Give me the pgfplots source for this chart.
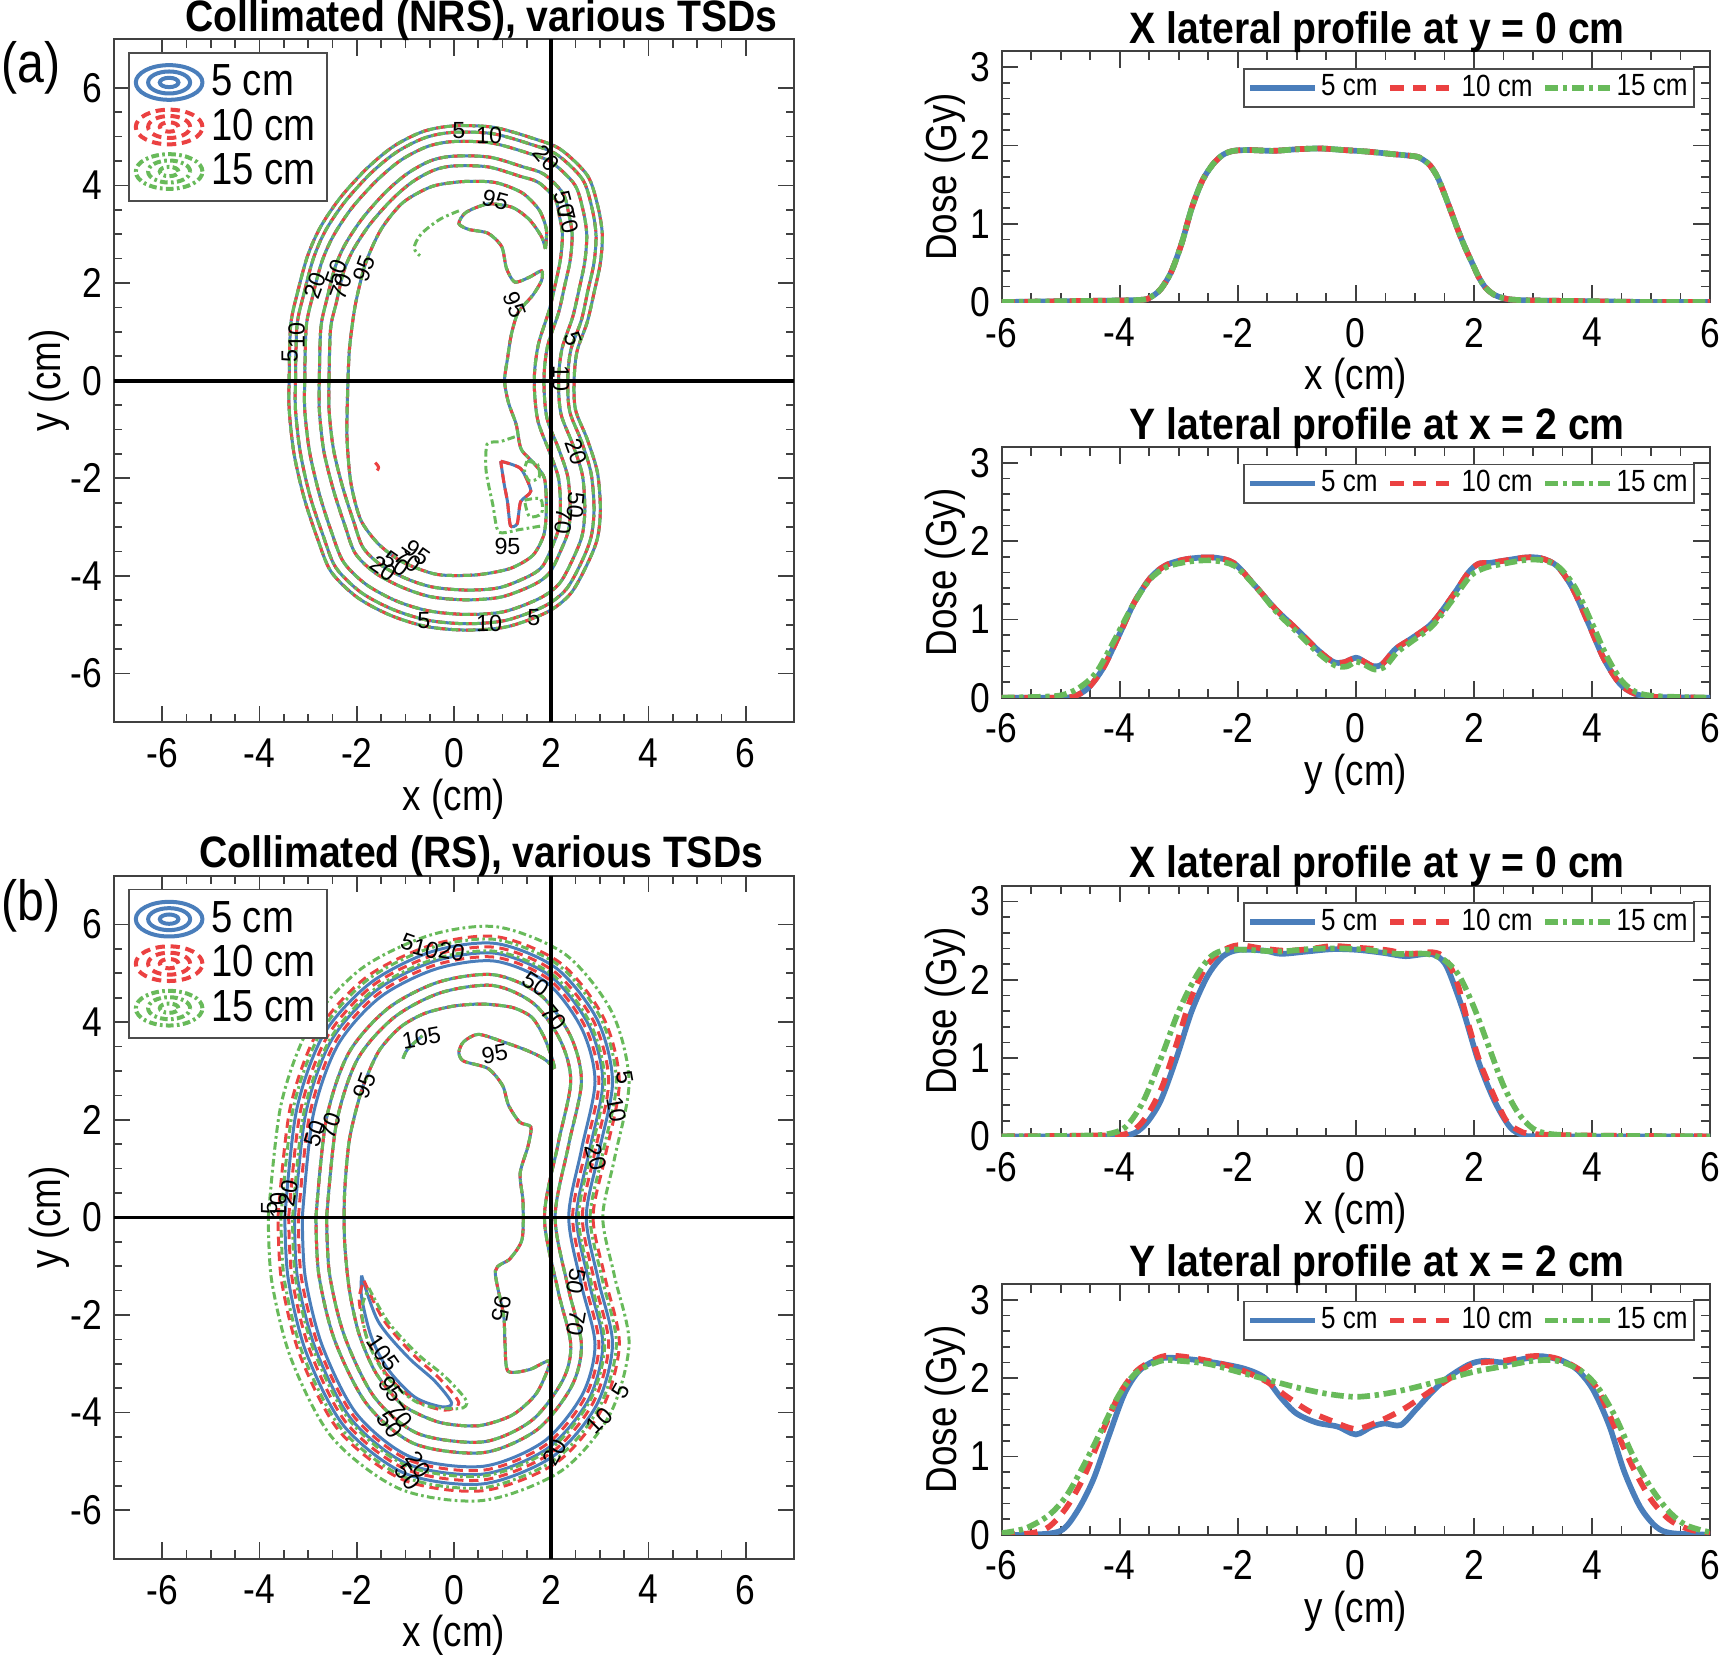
\documentclass[border=0pt]{standalone}
\usepackage{fontspec}
\setmainfont{Liberation Sans}
\newfontfamily\narrowsf[FakeStretch=0.85]{Liberation Sans}
\newfontfamily\titlesf[FakeStretch=0.89]{Liberation Sans}
\usepackage{pgfplots}
\pgfplotsset{compat=1.18}
\usepackage{pgfplotstable}

\definecolor{cBlue}{RGB}{74,126,187}
\definecolor{cRed}{RGB}{235,65,65}
\definecolor{cGreen}{RGB}{104,186,90}

\tikzset{
  cb/.style={cBlue, line width=0.9pt, solid},
  cr/.style={cRed, line width=0.9pt, dash pattern=on 2.8pt off 1.7pt},
  cg/.style={cGreen, line width=0.9pt, dash pattern=on 2.3pt off 1pt on 0.8pt off 1pt},
  pb/.style={cBlue, line width=1.7pt, solid},
  pr/.style={cRed, line width=1.7pt, dash pattern=on 4pt off 2.8pt},
  pg/.style={cGreen, line width=1.7pt, dash pattern=on 3.8pt off 1.4pt on 1.3pt off 1.4pt},
  clab/.style={font=\fontsize{7}{8}\selectfont, inner sep=0pt},
}

% ---------- isodose lines, panel (a): the three TSDs coincide ----------
\pgfplotstableread{
x y
-3.39 0.00
-3.36 1.13
-3.22 1.80
-3.01 2.56
-2.74 3.16
-2.33 3.76
-1.78 4.36
-1.23 4.81
-0.62 5.11
0.00 5.22
0.82 5.19
1.64 4.96
2.19 4.74
2.74 4.21
2.95 3.61
3.05 3.00
3.01 2.41
2.88 1.80
2.74 1.20
2.53 0.60
2.47 0.00
2.50 -0.60
2.74 -1.20
2.95 -1.88
3.01 -2.63
2.95 -3.23
2.74 -3.76
2.40 -4.36
1.92 -4.74
1.10 -5.04
0.27 -5.11
-0.55 -5.04
-1.30 -4.81
-1.99 -4.44
-2.53 -3.91
-2.81 -3.23
-3.08 -2.41
-3.29 -1.50
-3.39 -0.60
-3.39 0.00
}\Afive
\pgfplotstableread{
x y
-3.26 0.00
-3.23 1.12
-3.09 1.77
-2.89 2.51
-2.64 3.08
-2.24 3.67
-1.70 4.26
-1.17 4.69
-0.59 4.98
0.00 5.09
0.80 5.06
1.59 4.84
2.12 4.63
2.64 4.13
2.83 3.57
2.92 3.00
2.88 2.42
2.75 1.83
2.62 1.24
2.40 0.62
2.34 0.00
2.38 -0.63
2.62 -1.24
2.82 -1.90
2.88 -2.63
2.82 -3.20
2.63 -3.70
2.31 -4.27
1.86 -4.62
1.07 -4.91
0.27 -4.98
-0.53 -4.91
-1.25 -4.69
-1.91 -4.34
-2.43 -3.83
-2.69 -3.18
-2.96 -2.37
-3.16 -1.48
-3.26 -0.60
-3.26 0.00
}\Aten
\pgfplotstableread{
x y
-3.07 0.00
-3.04 1.10
-2.91 1.72
-2.72 2.43
-2.48 2.97
-2.10 3.54
-1.59 4.10
-1.09 4.52
-0.54 4.80
0.00 4.90
0.77 4.87
1.53 4.66
2.01 4.47
2.48 4.02
2.65 3.51
2.73 3.00
2.69 2.44
2.57 1.86
2.44 1.30
2.22 0.65
2.15 0.00
2.20 -0.68
2.44 -1.30
2.64 -1.93
2.69 -2.63
2.64 -3.15
2.47 -3.60
2.18 -4.14
1.78 -4.45
1.04 -4.73
0.27 -4.79
-0.50 -4.72
-1.17 -4.52
-1.80 -4.18
-2.27 -3.72
-2.52 -3.10
-2.77 -2.32
-2.97 -1.46
-3.07 -0.60
-3.07 0.00
}\Atwenty
\pgfplotstableread{
x y
-2.77 0.00
-2.74 1.07
-2.62 1.65
-2.45 2.31
-2.24 2.79
-1.88 3.33
-1.41 3.86
-0.95 4.25
-0.47 4.51
0.00 4.60
0.73 4.58
1.42 4.38
1.85 4.23
2.24 3.84
2.36 3.42
2.43 3.00
2.39 2.47
2.27 1.92
2.15 1.39
1.92 0.69
1.85 0.00
1.91 -0.76
2.15 -1.39
2.34 -1.97
2.39 -2.63
2.35 -3.08
2.21 -3.45
1.97 -3.93
1.64 -4.18
0.98 -4.43
0.27 -4.49
-0.46 -4.43
-1.05 -4.24
-1.62 -3.94
-2.03 -3.54
-2.24 -2.98
-2.48 -2.24
-2.68 -1.43
-2.77 -0.60
-2.77 0.00
}\Afifty
\pgfplotstableread{
x y
-2.57 0.00
-2.54 1.05
-2.42 1.60
-2.27 2.23
-2.08 2.67
-1.74 3.19
-1.29 3.70
-0.86 4.07
-0.42 4.31
0.00 4.40
0.70 4.38
1.35 4.19
1.74 4.06
2.08 3.72
2.17 3.36
2.23 3.00
2.19 2.49
2.08 1.96
1.96 1.45
1.73 0.72
1.65 0.00
1.72 -0.80
1.96 -1.45
2.15 -2.00
2.19 -2.63
2.15 -3.03
2.04 -3.35
1.83 -3.79
1.55 -4.00
0.94 -4.24
0.27 -4.29
-0.43 -4.23
-0.97 -4.06
-1.50 -3.78
-1.87 -3.42
-2.06 -2.90
-2.29 -2.18
-2.48 -1.40
-2.57 -0.60
-2.57 0.00
}\Aseventy
\pgfplotstableread{
x y
1.88 2.70
1.90 3.10
1.75 3.50
1.40 3.85
0.85 4.06
0.20 4.08
-0.45 3.98
-1.05 3.65
-1.50 3.10
-1.82 2.40
-2.03 1.55
-2.15 0.65
-2.19 -0.30
-2.20 -1.20
-2.12 -2.10
-1.92 -2.85
-1.55 -3.35
-1.05 -3.72
-0.35 -3.97
0.45 -3.98
1.15 -3.85
1.62 -3.58
1.85 -3.15
1.90 -2.60
1.86 -2.00
1.65 -1.70
1.38 -1.40
1.28 -0.90
1.12 -0.45
1.04 0.00
1.10 0.45
1.18 0.95
1.32 1.40
1.62 1.75
1.80 2.05
1.80 2.25
1.55 2.12
1.25 2.02
1.08 2.30
0.98 2.75
0.70 3.02
0.30 3.10
0.10 3.22
0.25 3.45
0.70 3.62
1.20 3.55
1.55 3.30
1.80 2.95
1.88 2.70
}\Aninetyfive
\pgfplotstableread{
x y
0.96 -1.65
1.37 -1.80
1.58 -2.26
1.37 -2.48
1.30 -2.93
1.16 -2.97
1.10 -2.48
1.03 -2.11
0.96 -1.65
}\Aisle
\pgfplotstableread{
x y
0.10 3.48
-0.30 3.30
-0.68 3.00
-0.82 2.72
-0.70 2.56
}\AgA
\pgfplotstableread{
x y
1.25 -1.15
0.95 -1.25
0.68 -1.30
0.66 -1.85
0.80 -2.55
0.92 -3.10
1.35 -3.05
1.78 -2.98
}\AgB
\pgfplotstableread{
x y
1.50 -1.65
1.72 -1.72
1.75 -1.98
1.55 -2.05
1.45 -1.85
1.50 -1.65
}\AgC
\pgfplotstableread{
x y
1.45 -2.45
1.78 -2.42
1.80 -2.72
1.55 -2.78
1.45 -2.45
}\AgD
\pgfplotstableread{
x y
-1.62 -1.68
-1.55 -1.78
-1.62 -1.90
}\ArA

% ---------- isodose lines, panel (b) ----------
\pgfplotstableread{
x y
-3.82 0.00
-3.56 2.30
-2.95 3.95
-1.90 5.10
-0.50 5.78
0.90 5.95
2.30 5.38
3.25 4.20
3.60 2.78
3.30 1.20
3.06 0.00
3.30 -1.20
3.60 -2.60
3.20 -4.05
2.20 -5.20
0.60 -5.80
-1.10 -5.57
-2.50 -4.52
-3.35 -2.90
-3.75 -1.30
-3.82 0.00
}\BgFive
\pgfplotstableread{
x y
-3.62 0.00
-3.37 2.24
-2.79 3.83
-1.79 4.93
-0.46 5.58
0.88 5.75
2.19 5.21
3.07 4.10
3.40 2.78
3.11 1.25
2.86 0.00
3.11 -1.25
3.40 -2.60
3.04 -3.93
2.10 -5.03
0.60 -5.60
-1.04 -5.38
-2.36 -4.38
-3.17 -2.82
-3.55 -1.28
-3.62 0.00
}\BrFive
\pgfplotstableread{
x y
-3.56 0.00
-3.31 2.22
-2.74 3.79
-1.76 4.88
-0.45 5.53
0.88 5.69
2.16 5.16
3.02 4.08
3.34 2.78
3.05 1.27
2.80 0.00
3.05 -1.27
3.34 -2.60
2.99 -3.89
2.07 -4.97
0.60 -5.54
-1.02 -5.32
-2.31 -4.34
-3.11 -2.80
-3.49 -1.27
-3.56 0.00
}\BgTen
\pgfplotstableread{
x y
-3.48 0.00
-3.24 2.19
-2.68 3.75
-1.71 4.81
-0.44 5.45
0.87 5.61
2.11 5.10
2.95 4.04
3.26 2.78
2.97 1.29
2.72 0.00
2.97 -1.29
3.26 -2.60
2.93 -3.85
2.03 -4.90
0.60 -5.46
-1.00 -5.25
-2.26 -4.28
-3.04 -2.77
-3.41 -1.26
-3.48 0.00
}\BbFive
\pgfplotstableread{
x y
-3.40 0.00
-3.16 2.17
-2.61 3.70
-1.67 4.75
-0.42 5.37
0.87 5.53
2.07 5.03
2.88 4.00
3.18 2.78
2.89 1.31
2.64 0.00
2.89 -1.31
3.18 -2.60
2.86 -3.80
1.99 -4.83
0.60 -5.38
-0.97 -5.17
-2.20 -4.23
-2.96 -2.74
-3.33 -1.25
-3.40 0.00
}\BrTen
\pgfplotstableread{
x y
-3.32 0.00
-3.09 2.14
-2.55 3.65
-1.63 4.68
-0.41 5.29
0.86 5.45
2.03 4.97
2.81 3.96
3.10 2.78
2.82 1.33
2.56 0.00
2.82 -1.33
3.10 -2.60
2.80 -3.75
1.95 -4.77
0.60 -5.30
-0.95 -5.10
-2.14 -4.17
-2.89 -2.71
-3.26 -1.24
-3.32 0.00
}\BgTwenty
\pgfplotstableread{
x y
-3.28 0.00
-3.05 2.13
-2.52 3.63
-1.60 4.65
-0.40 5.25
0.86 5.41
2.00 4.93
2.77 3.94
3.06 2.78
2.78 1.34
2.52 0.00
2.78 -1.34
3.06 -2.60
2.77 -3.73
1.93 -4.73
0.60 -5.26
-0.94 -5.06
-2.11 -4.14
-2.85 -2.69
-3.22 -1.24
-3.28 0.00
}\BbTen
\pgfplotstableread{
x y
-3.20 0.00
-2.97 2.10
-2.45 3.58
-1.56 4.58
-0.39 5.17
0.85 5.33
1.96 4.87
2.70 3.90
2.98 2.78
2.70 1.36
2.44 0.00
2.70 -1.36
2.98 -2.60
2.70 -3.68
1.89 -4.66
0.60 -5.18
-0.91 -4.98
-2.05 -4.09
-2.78 -2.66
-3.14 -1.23
-3.20 0.00
}\BrTwenty
\pgfplotstableread{
x y
-3.12 0.00
-2.90 2.08
-2.39 3.53
-1.52 4.51
-0.37 5.09
0.84 5.25
1.92 4.80
2.63 3.86
2.90 2.78
2.62 1.38
2.36 0.00
2.62 -1.38
2.90 -2.60
2.64 -3.63
1.85 -4.59
0.60 -5.10
-0.89 -4.91
-2.00 -4.03
-2.71 -2.63
-3.06 -1.22
-3.12 0.00
}\BbTwenty
\pgfplotstableread{
x y
-2.84 0.00
-2.63 1.99
-2.17 3.36
-1.36 4.28
-0.32 4.82
0.82 4.97
1.76 4.57
2.39 3.73
2.62 2.78
2.35 1.45
2.08 0.00
2.35 -1.45
2.62 -2.60
2.42 -3.46
1.71 -4.35
0.60 -4.82
-0.81 -4.64
-1.79 -3.83
-2.45 -2.53
-2.78 -1.18
-2.84 0.00
}\BFifty
\pgfplotstableread{
x y
-2.62 0.00
-2.42 1.92
-1.99 3.23
-1.24 4.09
-0.28 4.60
0.80 4.75
1.64 4.38
2.19 3.62
2.40 2.78
2.14 1.50
1.86 0.00
2.14 -1.50
2.40 -2.60
2.24 -3.33
1.60 -4.16
0.60 -4.60
-0.74 -4.43
-1.64 -3.68
-2.25 -2.44
-2.56 -1.16
-2.62 0.00
}\BSeventy
\pgfplotstableread{
x y
2.07 3.05
2.02 3.25
1.85 3.70
1.60 4.10
1.20 4.30
0.60 4.37
0.00 4.33
-0.60 4.18
-1.10 3.90
-1.55 3.40
-1.90 2.60
-2.15 1.60
-2.25 0.50
-2.25 -0.50
-2.15 -1.50
-1.95 -2.40
-1.60 -3.20
-1.05 -3.85
-0.30 -4.20
0.50 -4.27
1.20 -4.05
1.70 -3.60
1.97 -2.95
1.55 -3.12
1.11 -3.15
1.05 -2.60
1.02 -2.00
0.85 -1.10
1.15 -0.85
1.40 -0.45
1.42 0.30
1.36 0.90
1.52 1.45
1.58 1.85
1.35 1.95
1.12 2.30
1.00 2.70
0.70 3.05
0.20 3.20
0.10 3.38
0.20 3.60
0.50 3.75
1.00 3.60
1.50 3.42
1.85 3.25
2.07 3.05
}\BNinetyFive
\pgfplotstableread{
x y
-1.90 -1.19
-1.56 -2.13
-0.95 -2.86
-0.40 -3.35
-0.05 -3.80
-0.26 -3.88
-0.81 -3.68
-1.36 -3.11
-1.70 -2.45
-1.90 -1.64
-1.90 -1.19
}\BbHigh
\pgfplotstableread{
x y
-1.85 -1.30
-1.45 -2.10
-0.85 -2.80
-0.30 -3.30
0.10 -3.80
-0.20 -3.95
-0.80 -3.75
-1.40 -3.20
-1.78 -2.50
-1.95 -1.70
-1.85 -1.30
}\BrHigh
\pgfplotstableread{
x y
-1.75 -1.45
-1.35 -2.15
-0.75 -2.80
-0.20 -3.25
0.25 -3.75
0.10 -3.92
-0.70 -3.82
-1.35 -3.30
-1.75 -2.60
-1.90 -1.90
-1.75 -1.45
}\BgHigh
\pgfplotstableread{
x y
-1.05 3.25
-0.95 3.45
-0.65 3.72
}\BHighTop

% ---------- lateral dose profiles ----------
\pgfplotstableread{
x y
-6 0.00
-5 0.01
-4 0.02
-3.6 0.03
-3.48 0.06
-3.31 0.16
-3.13 0.38
-2.95 0.75
-2.78 1.20
-2.60 1.55
-2.42 1.76
-2.25 1.88
-2.07 1.93
-1.80 1.94
-1.40 1.93
-1.00 1.95
-0.60 1.96
-0.20 1.94
0.20 1.92
0.60 1.89
1.00 1.86
1.11 1.83
1.25 1.75
1.38 1.60
1.50 1.38
1.64 1.10
1.75 0.88
1.86 0.68
2.00 0.45
2.08 0.32
2.20 0.18
2.35 0.09
2.50 0.05
2.66 0.03
3.00 0.02
4.00 0.01
5.00 0.00
6.00 0.00
}\PaX
\pgfplotstableread{
x y
-6 0
-5.2 0
-4.81 0.01
-4.54 0.12
-4.28 0.38
-4.01 0.80
-3.75 1.22
-3.48 1.53
-3.22 1.69
-2.86 1.77
-2.42 1.79
-2.07 1.72
-1.72 1.44
-1.36 1.13
-1.01 0.88
-0.66 0.62
-0.39 0.46
-0.21 0.45
0.00 0.51
0.14 0.46
0.30 0.40
0.45 0.43
0.67 0.62
0.93 0.75
1.29 0.95
1.64 1.30
1.91 1.60
2.08 1.71
2.26 1.72
2.52 1.75
2.88 1.79
3.14 1.78
3.41 1.68
3.67 1.40
3.94 0.95
4.20 0.50
4.47 0.18
4.73 0.05
5.09 0.01
6 0
}\PaYb
\pgfplotstableread{
x y
-6 0
-5.4 0.01
-5.0 0.03
-4.7 0.12
-4.4 0.32
-4.1 0.72
-3.8 1.15
-3.5 1.50
-3.2 1.67
-2.8 1.74
-2.4 1.75
-2.05 1.68
-1.7 1.42
-1.35 1.10
-1.0 0.84
-0.65 0.58
-0.35 0.41
-0.15 0.40
0.0 0.46
0.15 0.42
0.32 0.36
0.5 0.40
0.7 0.58
0.95 0.72
1.3 0.92
1.65 1.26
1.95 1.56
2.2 1.66
2.5 1.71
2.9 1.76
3.2 1.75
3.45 1.66
3.72 1.40
4.0 0.95
4.25 0.53
4.5 0.22
4.75 0.07
5.1 0.02
6 0
}\PaYg
\pgfplotstableread{
x y
-6 0
-4.5 0.00
-3.84 0.02
-3.57 0.15
-3.31 0.45
-3.04 1.00
-2.78 1.60
-2.51 2.05
-2.25 2.30
-1.98 2.38
-1.54 2.37
-1.27 2.33
-0.83 2.36
-0.39 2.39
0.04 2.38
0.49 2.34
0.84 2.30
1.20 2.33
1.38 2.30
1.55 2.15
1.82 1.60
2.08 0.95
2.35 0.45
2.61 0.12
2.83 0.02
3.20 0
6 0
}\PbXb
\pgfplotstableread{
x y
-6 0
-4.5 0.01
-3.9 0.03
-3.6 0.20
-3.3 0.60
-3.05 1.15
-2.8 1.75
-2.55 2.15
-2.3 2.35
-2.0 2.44
-1.6 2.40
-1.2 2.37
-0.8 2.39
-0.4 2.43
0.0 2.41
0.5 2.38
0.9 2.33
1.3 2.35
1.5 2.28
1.7 2.00
1.9 1.45
2.1 0.95
2.35 0.50
2.55 0.20
2.75 0.08
3.0 0.03
4.0 0.01
6 0
}\PbXr
\pgfplotstableread{
x y
-6 0
-4.6 0.01
-4.2 0.03
-3.9 0.12
-3.6 0.45
-3.3 1.00
-3.0 1.60
-2.7 2.05
-2.45 2.30
-2.2 2.38
-1.8 2.38
-1.3 2.36
-0.8 2.39
-0.3 2.40
0.2 2.38
0.7 2.33
1.2 2.33
1.5 2.25
1.75 2.05
2.0 1.65
2.25 1.15
2.5 0.65
2.75 0.30
3.0 0.10
3.3 0.03
4.0 0.01
6 0
}\PbXg
\pgfplotstableread{
x y
-6 0
-5.5 0.0
-5.0 0.05
-4.72 0.30
-4.45 0.70
-4.19 1.25
-3.92 1.80
-3.66 2.10
-3.31 2.25
-2.95 2.25
-2.42 2.20
-1.89 2.12
-1.54 2.00
-1.27 1.75
-1.01 1.55
-0.66 1.43
-0.31 1.38
0.00 1.28
0.27 1.38
0.49 1.42
0.76 1.40
1.02 1.60
1.29 1.82
1.55 2.00
1.91 2.17
2.17 2.22
2.52 2.20
2.88 2.25
3.14 2.28
3.50 2.22
3.76 2.10
4.02 1.85
4.29 1.40
4.55 0.80
4.82 0.35
5.09 0.10
5.35 0.02
6 0
}\PbYb
\pgfplotstableread{
x y
-6 0.0
-5.5 0.02
-5.2 0.10
-4.9 0.35
-4.6 0.75
-4.3 1.30
-4.0 1.80
-3.7 2.10
-3.3 2.27
-3.0 2.28
-2.5 2.22
-2.0 2.12
-1.5 1.95
-1.2 1.78
-0.8 1.58
-0.4 1.45
0.0 1.35
0.4 1.45
0.8 1.60
1.2 1.80
1.6 2.00
2.0 2.18
2.5 2.22
3.0 2.28
3.4 2.25
3.8 2.10
4.1 1.85
4.4 1.35
4.7 0.85
5.0 0.45
5.3 0.20
5.6 0.08
6 0.01
}\PbYr
\pgfplotstableread{
x y
-6 0.02
-5.6 0.08
-5.2 0.25
-4.9 0.50
-4.6 0.90
-4.3 1.35
-4.0 1.80
-3.7 2.08
-3.3 2.22
-3.0 2.22
-2.5 2.18
-2.0 2.08
-1.5 1.98
-1.0 1.88
-0.5 1.80
0.0 1.76
0.5 1.80
1.0 1.88
1.5 1.98
2.0 2.08
2.5 2.15
3.0 2.22
3.4 2.22
3.8 2.10
4.1 1.88
4.4 1.50
4.7 1.00
5.0 0.60
5.3 0.30
5.6 0.12
6 0.03
}\PbYg

\pgfplotsset{
  basestyle/.style={
    scale only axis,
    axis line style={black!75, line width=0.6pt},
    tick align=inside,
    major tick length=5pt,
    minor tick length=2.6pt,
    every tick/.style={black!75, line width=0.5pt},
    tick label style={font=\narrowsf\fontsize{12.5}{13}\selectfont},
    xticklabel style={yshift=-1.3pt},
    label style={font=\narrowsf\fontsize{13}{14}\selectfont},
    title style={font=\titlesf\bfseries\fontsize{13.2}{15}\selectfont,
      at={(axis description cs:0.5,1)}, anchor=base, yshift=-3.6pt},
    /pgf/number format/assume math mode=true,
  },
  contourax/.style={
    basestyle,
    width=204.2pt, height=205pt,
    xmin=-7, xmax=7, ymin=-7, ymax=7,
    xtick={-6,-4,...,6}, ytick={-6,-4,...,6},
    minor x tick num=3, minor y tick num=3,
    xlabel={x (cm)}, ylabel={y (cm)},
    title style={xshift=8.2pt},
    x label style={at={(axis description cs:0.5,-0.112)}, anchor=center},
    y label style={at={(axis description cs:-0.095,0.5)}, anchor=center},
    legend style={at={(axis description cs:0.021,0.981)}, anchor=north west,
      draw=black!70, line width=0.5pt, fill=white,
      font=\narrowsf\fontsize{13.5}{14}\selectfont,
      inner sep=1.5pt, row sep=-1.5pt},
    legend cell align=left,
    legend image code/.code={
      \draw[##1, line width=1.2pt] (11pt,0pt) ellipse [x radius=10pt, y radius=5.2pt];
      \draw[##1, line width=1.2pt] (11pt,0pt) ellipse [x radius=6.3pt, y radius=3.3pt];
      \draw[##1, line width=1.2pt] (11pt,0pt) ellipse [x radius=2.8pt, y radius=1.4pt];
    },
  },
  profax/.style={
    basestyle,
    width=212.5pt, height=75.2pt,
    xmin=-6, xmax=6, ymin=0, ymax=3.2,
    xtick={-6,-4,...,6}, ytick={0,1,2,3},
    minor x tick num=3, minor y tick num=4,
    ylabel={Dose (Gy)},
    title style={xshift=6.4pt},
    x label style={at={(axis description cs:0.5,-0.305)}, anchor=center},
    y label style={at={(axis description cs:-0.079,0.5)}, anchor=center},
    legend columns=3,
    legend style={at={(axis description cs:0.979,0.934)}, anchor=north east,
      draw=black!70, line width=0.5pt, fill=white,
      font=\narrowsf\fontsize{9.2}{10}\selectfont, inner xsep=1pt, inner ysep=0.8pt,
      nodes={inner sep=1pt},
      /tikz/every even column/.append style={column sep=2pt}},
    legend image code/.code={\draw[##1] (0pt,0pt) -- (19.5pt,0pt);},
  },
}

\begin{document}
\begin{tikzpicture}
\path[use as bounding box] (0pt,0pt) rectangle (516pt,-496.2pt);

\node[font=\narrowsf\fontsize{17}{18}\selectfont] at (9.2pt,-20.4pt) {(a)};
\node[font=\narrowsf\fontsize{17}{18}\selectfont] at (9.2pt,-271.8pt) {(b)};

% ===== (a) isodose map =====
\begin{axis}[contourax, at={(34.1pt,-11.7pt)}, anchor=north west,
  title={Collimated (NRS), various TSDs}]
\addlegendimage{cb}\addlegendentry{5 cm}
\addlegendimage{cr}\addlegendentry{10 cm}
\addlegendimage{cg}\addlegendentry{15 cm}
\pgfplotsinvokeforeach{cb,cr,cg}{
  \addplot[#1, smooth, forget plot] table {\Afive};
  \addplot[#1, smooth, forget plot] table {\Aten};
  \addplot[#1, smooth, forget plot] table {\Atwenty};
  \addplot[#1, smooth, forget plot] table {\Afifty};
  \addplot[#1, smooth, forget plot] table {\Aseventy};
  \addplot[#1, smooth, tension=0.45, forget plot] table {\Aninetyfive};
}
\addplot[cb, smooth, tension=0.4, forget plot] table {\Aisle};
\addplot[cr, smooth, tension=0.4, forget plot] table {\Aisle};
\addplot[cr, smooth, forget plot] table {\ArA};
\addplot[cg, smooth, forget plot] table {\AgA};
\addplot[cg, smooth, tension=0.4, forget plot] table {\AgB};
\addplot[cg, smooth, forget plot] table {\AgC};
\addplot[cg, smooth, forget plot] table {\AgD};
\addplot[black, line width=1.1pt, forget plot] coordinates {(-7,0) (7,0)};
\addplot[black, line width=1.1pt, forget plot] coordinates {(2,-7) (2,7)};
\node[clab] at (axis cs:0.10,5.12) {5};
\node[clab] at (axis cs:0.72,5.02) {10};
\node[clab, rotate=-50] at (axis cs:1.90,4.55) {20};
\node[clab, rotate=-75] at (axis cs:2.27,3.62) {50};
\node[clab, rotate=-75] at (axis cs:2.35,3.28) {70};
\node[clab, rotate=70] at (axis cs:-2.85,1.95) {20};
\node[clab, rotate=70] at (axis cs:-2.42,2.22) {50};
\node[clab, rotate=70] at (axis cs:-2.32,1.92) {70};
\node[clab, rotate=70] at (axis cs:-1.85,2.30) {95};
\node[clab, rotate=90] at (axis cs:-3.38,0.50) {5};
\node[clab, rotate=90] at (axis cs:-3.24,0.92) {10};
\node[clab, rotate=-15] at (axis cs:0.85,3.70) {95};
\node[clab, rotate=-70] at (axis cs:1.25,1.55) {95};
\node[clab, rotate=-70] at (axis cs:2.45,0.85) {5};
\node[clab, rotate=-90] at (axis cs:2.20,0.05) {10};
\node[clab, rotate=-70] at (axis cs:2.52,-1.45) {20};
\node[clab, rotate=-95] at (axis cs:2.50,-2.55) {50};
\node[clab, rotate=-95] at (axis cs:2.25,-2.88) {70};
\node[clab] at (axis cs:1.10,-3.40) {95};
\node[clab, rotate=-35] at (axis cs:-1.45,-3.85) {20};
\node[clab, rotate=-35] at (axis cs:-1.20,-3.75) {50};
\node[clab, rotate=-35] at (axis cs:-0.95,-3.68) {70};
\node[clab, rotate=-35] at (axis cs:-0.75,-3.52) {95};
\node[clab] at (axis cs:-0.62,-4.92) {5};
\node[clab] at (axis cs:0.72,-4.98) {10};
\node[clab] at (axis cs:1.64,-4.86) {5};
\end{axis}

% ===== (b) isodose map =====
\begin{axis}[contourax, at={(34.1pt,-262.7pt)}, anchor=north west,
  title={Collimated (RS), various TSDs}]
\addlegendimage{cb}\addlegendentry{5 cm}
\addlegendimage{cr}\addlegendentry{10 cm}
\addlegendimage{cg}\addlegendentry{15 cm}
\addplot[cb, smooth, forget plot] table {\BbFive};
\addplot[cb, smooth, forget plot] table {\BbTen};
\addplot[cb, smooth, forget plot] table {\BbTwenty};
\addplot[cr, smooth, forget plot] table {\BrFive};
\addplot[cr, smooth, forget plot] table {\BrTen};
\addplot[cr, smooth, forget plot] table {\BrTwenty};
\addplot[cg, smooth, forget plot] table {\BgFive};
\addplot[cg, smooth, forget plot] table {\BgTen};
\addplot[cg, smooth, forget plot] table {\BgTwenty};
\pgfplotsinvokeforeach{cb,cr,cg}{
  \addplot[#1, smooth, forget plot] table {\BFifty};
  \addplot[#1, smooth, forget plot] table {\BSeventy};
  \addplot[#1, smooth, tension=0.45, forget plot] table {\BNinetyFive};
}
\addplot[cb, smooth, forget plot] table {\BbHigh};
\addplot[cr, smooth, forget plot] table {\BrHigh};
\addplot[cg, smooth, forget plot] table {\BgHigh};
\addplot[cb, smooth, forget plot] table {\BHighTop};
\addplot[cg, smooth, forget plot] table {\BHighTop};
\addplot[black, line width=1.1pt, forget plot] coordinates {(-7,0) (7,0)};
\addplot[black, line width=1.1pt, forget plot] coordinates {(2,-7) (2,7)};
\node[clab, rotate=-20] at (axis cs:-0.95,5.64) {5};
\node[clab, rotate=-15] at (axis cs:-0.58,5.50) {10};
\node[clab, rotate=-10] at (axis cs:-0.05,5.45) {20};
\node[clab, rotate=-35] at (axis cs:1.69,4.78) {50};
\node[clab, rotate=-50] at (axis cs:2.05,4.09) {70};
\node[clab, rotate=10] at (axis cs:-0.67,3.68) {105};
\node[clab, rotate=10] at (axis cs:0.84,3.35) {95};
\node[clab, rotate=70] at (axis cs:-1.84,2.70) {95};
\node[clab, rotate=70] at (axis cs:-2.86,1.72) {50};
\node[clab, rotate=70] at (axis cs:-2.55,1.88) {70};
\node[clab, rotate=80] at (axis cs:-3.41,0.49) {20};
\node[clab, rotate=90] at (axis cs:-3.80,0.20) {5};
\node[clab, rotate=90] at (axis cs:-3.62,0.25) {10};
\node[clab, rotate=-80] at (axis cs:3.51,2.86) {5};
\node[clab, rotate=-80] at (axis cs:3.34,2.21) {10};
\node[clab, rotate=-75] at (axis cs:2.92,1.23) {20};
\node[clab, rotate=-100] at (axis cs:2.51,-1.31) {50};
\node[clab, rotate=-100] at (axis cs:2.51,-2.17) {70};
\node[clab, rotate=-100] at (axis cs:0.97,-1.88) {95};
\node[clab, rotate=-55] at (axis cs:-1.46,-2.78) {105};
\node[clab, rotate=-55] at (axis cs:-1.29,-3.52) {95};
\node[clab, rotate=-55] at (axis cs:-1.10,-4.05) {70};
\node[clab, rotate=-55] at (axis cs:-1.32,-4.25) {50};
\node[clab, rotate=-55] at (axis cs:-0.74,-5.07) {20};
\node[clab, rotate=-55] at (axis cs:-0.95,-5.31) {50};
\node[clab, rotate=60] at (axis cs:2.07,-4.82) {20};
\node[clab, rotate=45] at (axis cs:2.99,-4.17) {10};
\node[clab, rotate=60] at (axis cs:3.44,-3.56) {5};
\end{axis}

% ===== profiles for (a) =====
\begin{axis}[profax, at={(300.5pt,-15.4pt)}, anchor=north west,
  title={X lateral profile at y = 0 cm}, xlabel={x (cm)}]
\addplot[pb, smooth] table {\PaX}; \addlegendentry{5 cm}
\addplot[pr, smooth] table {\PaX}; \addlegendentry{10 cm}
\addplot[pg, smooth] table {\PaX}; \addlegendentry{15 cm}
\end{axis}

\begin{axis}[profax, at={(300.5pt,-134.1pt)}, anchor=north west,
  title={Y lateral profile at x = 2 cm}, xlabel={y (cm)}]
\addplot[pb, smooth] table {\PaYb}; \addlegendentry{5 cm}
\addplot[pr, smooth] table {\PaYb}; \addlegendentry{10 cm}
\addplot[pg, smooth] table {\PaYg}; \addlegendentry{15 cm}
\end{axis}

% ===== profiles for (b) =====
\begin{axis}[profax, at={(300.5pt,-265.7pt)}, anchor=north west,
  title={X lateral profile at y = 0 cm}, xlabel={x (cm)}]
\addplot[pb, smooth] table {\PbXb}; \addlegendentry{5 cm}
\addplot[pr, smooth] table {\PbXr}; \addlegendentry{10 cm}
\addplot[pg, smooth] table {\PbXg}; \addlegendentry{15 cm}
\end{axis}

\begin{axis}[profax, at={(300.5pt,-385.2pt)}, anchor=north west,
  title={Y lateral profile at x = 2 cm}, xlabel={y (cm)}]
\addplot[pb, smooth] table {\PbYb}; \addlegendentry{5 cm}
\addplot[pr, smooth] table {\PbYr}; \addlegendentry{10 cm}
\addplot[pg, smooth] table {\PbYg}; \addlegendentry{15 cm}
\end{axis}
\end{tikzpicture}
\end{document}
